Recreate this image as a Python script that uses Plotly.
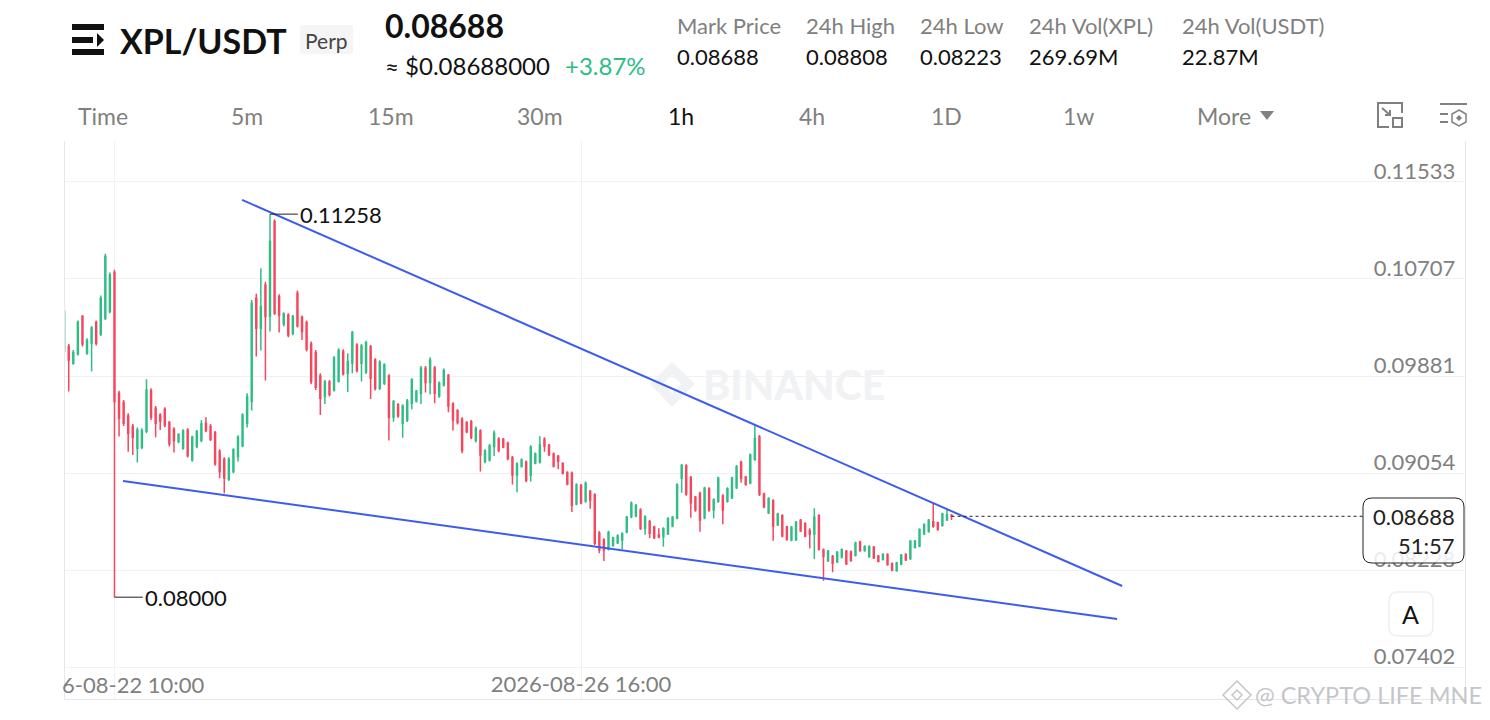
import plotly.graph_objects as go
import pandas as pd

# hourly candles XPL/USDT, first one is cut off by the left edge
start_time = '2026-08-21 23:00'

opens = [
    0.10089, 0.10132, 0.09990, 0.10069, 0.10387, 0.10075, 0.10160, 0.10336, 0.10239, 0.10373,
    0.10429, 0.10761, 0.09735, 0.09655, 0.09542, 0.09451, 0.09267, 0.09275, 0.09412, 0.09757,
    0.09607, 0.09550, 0.09599, 0.09485, 0.09429, 0.09324, 0.09267, 0.09423, 0.09168, 0.09281,
    0.09332, 0.09480, 0.09451, 0.09400, 0.09239, 0.09173, 0.09003, 0.09068, 0.09196, 0.09287,
    0.09480, 0.09664, 0.10543, 0.10288, 0.10656, 0.10392, 0.11195, 0.10557, 0.10324, 0.10401,
    0.10245, 0.10585, 0.10381, 0.10336, 0.10154, 0.10081, 0.09882, 0.09706, 0.09831, 0.09763,
    0.09837, 0.10089, 0.09905, 0.09990, 0.10143, 0.09989, 0.09916, 0.10131, 0.10018, 0.09777,
    0.09819, 0.09882, 0.09530, 0.09638, 0.09479, 0.09507, 0.09649, 0.09669, 0.09734, 0.09947,
    0.09825, 0.09950, 0.09712, 0.09805, 0.09885, 0.09644, 0.09587, 0.09513, 0.09485, 0.09493,
    0.09332, 0.09414, 0.09153, 0.09167, 0.09281, 0.09346, 0.09343, 0.09309, 0.09187, 0.09040,
    0.09111, 0.09147, 0.09040, 0.09142, 0.09150, 0.09343, 0.09292, 0.09218, 0.09198, 0.09136,
    0.09060, 0.09054, 0.08793, 0.08949, 0.08819, 0.08898, 0.08870, 0.08544, 0.08487, 0.08408,
    0.08442, 0.08464, 0.08487, 0.08555, 0.08685, 0.08691, 0.08742, 0.08586, 0.08643, 0.08597,
    0.08529, 0.08515, 0.08540, 0.08605, 0.08673, 0.09011, 0.09116, 0.09016, 0.08849, 0.08883,
    0.08676, 0.08920, 0.08741, 0.08815, 0.08861, 0.08815, 0.08846, 0.08931, 0.09147, 0.09022,
    0.08971, 0.09172, 0.09365, 0.08878, 0.08719, 0.08821, 0.08617, 0.08693, 0.08597, 0.08486,
    0.08489, 0.08654, 0.08625, 0.08566, 0.08537, 0.08693, 0.08401, 0.08311, 0.08347, 0.08302,
    0.08342, 0.08390, 0.08384, 0.08356, 0.08469, 0.08398, 0.08347, 0.08424, 0.08350, 0.08322,
    0.08362, 0.08285, 0.08228, 0.08282, 0.08364, 0.08328, 0.08424, 0.08435, 0.08540, 0.08560,
    0.08642, 0.08634, 0.08611, 0.08659, 0.08696,
]
highs = [
    0.10557, 0.10154, 0.10103, 0.10353, 0.10401, 0.10202, 0.10307, 0.10353, 0.10565, 0.10920,
    0.10761, 0.10784, 0.09755, 0.09678, 0.09565, 0.09474, 0.09443, 0.09437, 0.09854, 0.09777,
    0.09627, 0.09565, 0.09616, 0.09499, 0.09446, 0.09394, 0.09429, 0.09437, 0.09372, 0.09423,
    0.09508, 0.09531, 0.09474, 0.09414, 0.09258, 0.09190, 0.09190, 0.09267, 0.09377, 0.09565,
    0.09735, 0.10528, 0.10580, 0.10798, 0.10682, 0.11258, 0.11215, 0.10577, 0.10424, 0.10415,
    0.10401, 0.10608, 0.10395, 0.10353, 0.10174, 0.10103, 0.09905, 0.09848, 0.09848, 0.10052,
    0.10117, 0.10109, 0.10075, 0.10265, 0.10160, 0.10154, 0.10182, 0.10145, 0.10032, 0.10015,
    0.09989, 0.09896, 0.09678, 0.09649, 0.09641, 0.09686, 0.09862, 0.09763, 0.09967, 0.09967,
    0.10040, 0.09967, 0.09834, 0.09944, 0.09899, 0.09658, 0.09598, 0.09530, 0.09496, 0.09507,
    0.09451, 0.09428, 0.09258, 0.09303, 0.09417, 0.09360, 0.09354, 0.09323, 0.09201, 0.09147,
    0.09179, 0.09162, 0.09292, 0.09230, 0.09369, 0.09360, 0.09303, 0.09230, 0.09210, 0.09147,
    0.09071, 0.09068, 0.08969, 0.08963, 0.08983, 0.08912, 0.08884, 0.08563, 0.08501, 0.08566,
    0.08515, 0.08535, 0.08552, 0.08691, 0.08813, 0.08793, 0.08756, 0.08697, 0.08657, 0.08608,
    0.08586, 0.08594, 0.08679, 0.08690, 0.08968, 0.09133, 0.09130, 0.09031, 0.08861, 0.08897,
    0.08940, 0.08934, 0.08841, 0.09025, 0.08875, 0.08934, 0.09025, 0.09124, 0.09161, 0.09031,
    0.09223, 0.09464, 0.09379, 0.08889, 0.08849, 0.08832, 0.08719, 0.08705, 0.08608, 0.08605,
    0.08648, 0.08665, 0.08637, 0.08586, 0.08756, 0.08705, 0.08415, 0.08401, 0.08359, 0.08393,
    0.08415, 0.08401, 0.08396, 0.08472, 0.08481, 0.08441, 0.08441, 0.08435, 0.08359, 0.08373,
    0.08373, 0.08294, 0.08302, 0.08367, 0.08373, 0.08486, 0.08486, 0.08586, 0.08628, 0.08665,
    0.08793, 0.08642, 0.08719, 0.08750, 0.08707,
]
lows = [
    0.10047, 0.09749, 0.09976, 0.10055, 0.10132, 0.10061, 0.09919, 0.10140, 0.10222, 0.10358,
    0.10415, 0.08000, 0.09366, 0.09457, 0.09236, 0.09210, 0.09145, 0.09258, 0.09394, 0.09508,
    0.09360, 0.09423, 0.09446, 0.09281, 0.09230, 0.09309, 0.09253, 0.09188, 0.09151, 0.09267,
    0.09318, 0.09403, 0.09329, 0.09117, 0.09012, 0.08884, 0.08989, 0.09054, 0.09154, 0.09275,
    0.09443, 0.09587, 0.10047, 0.10098, 0.09842, 0.10259, 0.10401, 0.10251, 0.10302, 0.10211,
    0.10228, 0.10293, 0.10188, 0.10089, 0.09811, 0.09763, 0.09550, 0.09644, 0.09706, 0.09749,
    0.09825, 0.09885, 0.09746, 0.09905, 0.09910, 0.09834, 0.09899, 0.09686, 0.09757, 0.09763,
    0.09805, 0.09332, 0.09493, 0.09527, 0.09357, 0.09490, 0.09598, 0.09655, 0.09644, 0.09740,
    0.09723, 0.09649, 0.09697, 0.09791, 0.09573, 0.09417, 0.09468, 0.09224, 0.09394, 0.09343,
    0.09315, 0.09068, 0.09139, 0.09153, 0.09201, 0.09233, 0.09267, 0.09164, 0.08958, 0.08892,
    0.09102, 0.08977, 0.08983, 0.09130, 0.09136, 0.09238, 0.09201, 0.09102, 0.09088, 0.09043,
    0.08952, 0.08725, 0.08782, 0.08790, 0.08804, 0.08753, 0.08444, 0.08373, 0.08308, 0.08396,
    0.08430, 0.08453, 0.08408, 0.08544, 0.08671, 0.08680, 0.08572, 0.08532, 0.08501, 0.08495,
    0.08501, 0.08430, 0.08529, 0.08594, 0.08662, 0.08889, 0.08863, 0.08676, 0.08727, 0.08557,
    0.08662, 0.08727, 0.08671, 0.08804, 0.08620, 0.08804, 0.08835, 0.08920, 0.08974, 0.08948,
    0.08960, 0.09161, 0.08861, 0.08756, 0.08707, 0.08481, 0.08605, 0.08509, 0.08481, 0.08475,
    0.08478, 0.08554, 0.08509, 0.08415, 0.08325, 0.08396, 0.08140, 0.08299, 0.08211, 0.08291,
    0.08330, 0.08274, 0.08302, 0.08345, 0.08387, 0.08387, 0.08336, 0.08325, 0.08294, 0.08311,
    0.08268, 0.08220, 0.08217, 0.08271, 0.08308, 0.08316, 0.08413, 0.08424, 0.08529, 0.08549,
    0.08591, 0.08566, 0.08600, 0.08648, 0.08656,
]
closes = [
    0.10429, 0.10018, 0.10081, 0.10339, 0.10154, 0.10183, 0.10290, 0.10160, 0.10543, 0.10897,
    0.10741, 0.09664, 0.09522, 0.09480, 0.09394, 0.09360, 0.09423, 0.09417, 0.09763, 0.09531,
    0.09480, 0.09497, 0.09465, 0.09304, 0.09332, 0.09383, 0.09414, 0.09202, 0.09360, 0.09409,
    0.09474, 0.09417, 0.09343, 0.09134, 0.09068, 0.09012, 0.09173, 0.09253, 0.09360, 0.09550,
    0.09706, 0.10500, 0.10288, 0.10472, 0.10387, 0.11025, 0.10415, 0.10401, 0.10409, 0.10231,
    0.10387, 0.10307, 0.10259, 0.10109, 0.09834, 0.09786, 0.09692, 0.09831, 0.09723, 0.10032,
    0.10098, 0.09899, 0.10004, 0.10251, 0.09927, 0.10137, 0.10165, 0.09862, 0.09777, 0.09998,
    0.09975, 0.09530, 0.09663, 0.09542, 0.09627, 0.09669, 0.09848, 0.09751, 0.09947, 0.09825,
    0.10018, 0.09734, 0.09819, 0.09927, 0.09627, 0.09507, 0.09485, 0.09247, 0.09408, 0.09360,
    0.09434, 0.09210, 0.09244, 0.09286, 0.09394, 0.09247, 0.09278, 0.09179, 0.09040, 0.09133,
    0.09167, 0.08992, 0.09275, 0.09218, 0.09295, 0.09284, 0.09213, 0.09116, 0.09156, 0.09054,
    0.08963, 0.08782, 0.08955, 0.08804, 0.08969, 0.08827, 0.08459, 0.08402, 0.08402, 0.08552,
    0.08504, 0.08521, 0.08538, 0.08680, 0.08799, 0.08779, 0.08586, 0.08683, 0.08544, 0.08506,
    0.08512, 0.08583, 0.08668, 0.08679, 0.08954, 0.09119, 0.08878, 0.08804, 0.08741, 0.08656,
    0.08926, 0.08741, 0.08827, 0.09011, 0.08741, 0.08923, 0.09011, 0.09110, 0.09011, 0.08960,
    0.09209, 0.09351, 0.08875, 0.08770, 0.08838, 0.08605, 0.08707, 0.08520, 0.08492, 0.08594,
    0.08637, 0.08566, 0.08520, 0.08537, 0.08679, 0.08407, 0.08345, 0.08390, 0.08288, 0.08381,
    0.08404, 0.08285, 0.08313, 0.08461, 0.08398, 0.08430, 0.08430, 0.08336, 0.08305, 0.08362,
    0.08279, 0.08231, 0.08291, 0.08356, 0.08319, 0.08475, 0.08475, 0.08574, 0.08617, 0.08654,
    0.08603, 0.08577, 0.08707, 0.08699, 0.08688,
]

times = pd.date_range(start_time, periods=len(closes), freq='h')

price_ticks = [0.07402, 0.08228, 0.09054, 0.09881, 0.10707, 0.11533]
time_ticks = ['2026-08-26 16:00']
time_labels = ['2026-08-26 16:00']

upper_x = ['2026-08-23 13:54', '2026-08-31 14:18']
upper_y = [0.11379, 0.08095]
lower_x = ['2026-08-22 11:52', '2026-08-31 13:12']
lower_y = [0.08988, 0.07815]

stat_names = ['Mark Price', '24h High', '24h Low', '24h Vol(XPL)', '24h Vol(USDT)']
stat_values = ['0.08688', '0.08808', '0.08223', '269.69M', '22.87M']
stat_left = [675, 804, 918, 1027, 1180]

tabs = ['Time', '5m', '15m', '30m', '1h', '4h', '1D', '1w', 'More']
tab_left = [76, 229, 366, 515, 666, 797, 929, 1061, 1195]

RED = '#F6465D'
GREEN = '#2EBD85'
BLUE = '#3C5CF0'
GRAY = '#808080'
GRID = '#F0F1F3'
FONT = 'Lato'

# plot area in page pixels, header and buttons are placed with these
L, R, T, B = 65, 1465, 141, 699
BODY = 8  # the page's default body margin


def px(x):
    return (x - L) / (R - L)


def py(y):
    return (B - y) / (B - T)


def label(x, y, s, size, color='#111111', anchor='left', weight=400):
    return dict(xref='paper', yref='paper', x=px(x), y=py(y), text=s, showarrow=False,
                xanchor=anchor, yanchor='middle',
                font=dict(family=FONT, size=size, color=color, weight=weight))


def rrect(x0, y0, x1, y1, r):
    return (f'M {px(x0 + r)} {py(y0)} L {px(x1 - r)} {py(y0)} '
            f'Q {px(x1)} {py(y0)} {px(x1)} {py(y0 + r)} L {px(x1)} {py(y1 - r)} '
            f'Q {px(x1)} {py(y1)} {px(x1 - r)} {py(y1)} L {px(x0 + r)} {py(y1)} '
            f'Q {px(x0)} {py(y1)} {px(x0)} {py(y1 - r)} L {px(x0)} {py(y0 + r)} '
            f'Q {px(x0)} {py(y0)} {px(x0 + r)} {py(y0)} Z')


def poly(points, closed=False):
    s = ' '.join(('M' if i == 0 else 'L') + f' {px(a)} {py(b)}' for i, (a, b) in enumerate(points))
    return s + (' Z' if closed else '')


def shape(d, line=None, width=0, fill=None, layer='above'):
    return dict(type='path', xref='paper', yref='paper', path=d, layer=layer,
                line=dict(color=line or 'rgba(0,0,0,0)', width=width),
                fillcolor=fill or 'rgba(0,0,0,0)')


fig = go.Figure()

fig.add_trace(go.Candlestick(
    x=times, open=opens, high=highs, low=lows, close=closes,
    increasing=dict(line=dict(color=GREEN, width=1.5), fillcolor=GREEN),
    decreasing=dict(line=dict(color=RED, width=1.5), fillcolor=RED),
    whiskerwidth=0,
    showlegend=False,
))

for xs, ys in [(upper_x, upper_y), (lower_x, lower_y)]:
    fig.add_trace(go.Scatter(x=xs, y=ys, mode='lines', line=dict(color=BLUE, width=2),
                             showlegend=False))

# last price line and the high / low callouts
fig.add_trace(go.Scatter(x=['2026-08-30 01:00', '2026-09-02 19:00'], y=[closes[-1], closes[-1]],
                         mode='lines', line=dict(color='#222222', width=1, dash='3px,3px'),
                         showlegend=False))
fig.add_trace(go.Scatter(x=['2026-08-23 20:00', '2026-08-24 02:06'], y=[max(highs), max(highs)],
                         mode='lines', line=dict(color='#222222', width=1), showlegend=False))
fig.add_trace(go.Scatter(x=['2026-08-22 10:00', '2026-08-22 16:12'], y=[min(lows), min(lows)],
                         mode='lines', line=dict(color='#222222', width=1), showlegend=False))

notes = [
    dict(x='2026-08-24 02:06', y=max(highs), text=f'{max(highs):.5f}', showarrow=False, xanchor='left',
         font=dict(family=FONT, size=22, color='#111111')),
    dict(x='2026-08-22 16:12', y=min(lows), text=f'{min(lows):.5f}', showarrow=False, xanchor='left',
         font=dict(family=FONT, size=22, color='#111111')),
    label(118, 40, 'XPL/USDT', 34, weight=700),
    label(303, 40, 'Perp', 21, '#444444'),
    label(383, 25, '0.08688', 32, weight=700),
    label(383, 65, '≈ $0.08688000', 24),
    label(563, 65, '+3.87%', 24, GREEN),
    label(60, 684, '6-08-22 10:00', 22, GRAY),
    label(1457, 517, '0.08688', 22, '#222222', anchor='right'),
    label(1457, 545, '51:57', 22, '#222222', anchor='right'),
    label(1410, 614, 'A', 25, '#111111', anchor='center'),
    label(701, 384, 'BINANCE', 41, '#F1F2F4', weight=900),
    label(1253, 695, '@ CRYPTO LIFE MNE', 23.5, '#C4C6C9'),
]
for x0, name, value in zip(stat_left, stat_names, stat_values):
    notes.append(label(x0, 25, name, 22, GRAY))
    notes.append(label(x0, 57, value, 22))
for x0, tab in zip(tab_left, tabs):
    notes.append(label(x0, 116, tab, 23, '#111111' if tab == '1h' else GRAY))

shapes = [
    # menu icon
    shape(poly([(72, 24), (104, 24), (104, 30), (72, 30)], True), fill='#111111'),
    shape(poly([(72, 37), (93, 37), (93, 43), (72, 43)], True), fill='#111111'),
    shape(poly([(97, 33), (104, 40), (97, 47)], True), fill='#111111'),
    shape(poly([(72, 49), (104, 49), (104, 55), (72, 55)], True), fill='#111111'),
    # Perp badge
    shape(rrect(300, 25, 353, 54, 3), fill='#F5F5F5', layer='below'),
    # More arrow
    shape(poly([(1260, 111), (1274, 111), (1267, 120)], True), fill=GRAY),
    # expand icon
    shape(poly([(1402, 113), (1402, 103), (1378, 103), (1378, 127), (1389, 127)]), line=GRAY, width=2),
    shape(poly([(1393, 118), (1402, 118), (1402, 127), (1393, 127)], True), line=GRAY, width=2),
    shape(poly([(1382, 108), (1390, 115)]), line=GRAY, width=2),
    shape(poly([(1390, 110), (1390, 115), (1385, 115)]), line=GRAY, width=2),
    # settings icon
    shape(poly([(1440, 104), (1467, 104)]), line=GRAY, width=2),
    shape(poly([(1440, 114), (1448, 114)]), line=GRAY, width=2),
    shape(poly([(1440, 122), (1448, 122)]), line=GRAY, width=2),
    shape(poly([(1459, 110), (1466, 114), (1466, 122), (1459, 126), (1452, 122), (1452, 114)], True),
          line=GRAY, width=1.5),
    shape(poly([(1459, 115), (1462, 118), (1459, 121), (1456, 118)], True), fill=GRAY),
    # last price box and the A button
    shape(rrect(1363, 498, 1464, 563, 9), line='#222222', width=1, fill='rgba(255,255,255,0.85)'),
    shape(rrect(1389, 592, 1433, 636, 9), line='#EEEEEE', width=1.5, fill='#FFFFFF'),
    # big watermark logo
    shape(poly([(672, 362), (695, 384), (672, 407), (650, 384)], True), fill='#F1F2F4', layer='below'),
    shape(poly([(672, 375), (681, 384), (672, 393), (663, 384)], True), fill='#FFFFFF', layer='below'),
    # small watermark logo
    shape(poly([(1237, 681), (1251, 695), (1237, 709), (1223, 695)], True), line='#C4C6C9', width=1.5),
    shape(poly([(1237, 690), (1242, 695), (1237, 700), (1232, 695)], True), line='#C4C6C9', width=1.5),
]

fig.update_layout(
    width=1490 - BODY,
    height=720 - BODY,
    margin=dict(l=L - BODY, r=1490 - R, t=T - BODY, b=720 - B),
    paper_bgcolor='white',
    plot_bgcolor='white',
    boxgap=0.7,
    showlegend=False,
    annotations=notes,
    shapes=shapes,
    font=dict(family=FONT),
    xaxis=dict(
        type='date',
        range=['2026-08-21 23:11', '2026-09-03 17:15'],
        rangeslider=dict(visible=False),
        tickmode='array',
        tickvals=time_ticks,
        ticktext=time_labels,
        ticklabelposition='inside',
        ticklabelstandoff=4,
        ticks='',
        tickfont=dict(family=FONT, size=22, color=GRAY),
        showgrid=True,
        gridcolor=GRID,
        gridwidth=1,
        showline=True,
        linecolor='#E6E7EA',
        zeroline=False,
    ),
    yaxis=dict(
        range=[0.07134, 0.11880],
        side='right',
        tickmode='array',
        tickvals=price_ticks,
        ticktext=[f'{v:.5f}' for v in price_ticks],
        ticklabelposition='inside',
        ticklabelshift=-11,
        ticklabelstandoff=11,
        ticks='',
        tickfont=dict(family=FONT, size=22, color=GRAY),
        showgrid=True,
        gridcolor=GRID,
        gridwidth=1,
        showline=True,
        linecolor='#E6E7EA',
        mirror=True,
        zeroline=False,
    ),
)

# second vertical grid line, the first tick label is the cut off one above
fig.add_vline(x='2026-08-22 10:00', line=dict(color=GRID, width=1), layer='below')

fig.write_html('out.html')
